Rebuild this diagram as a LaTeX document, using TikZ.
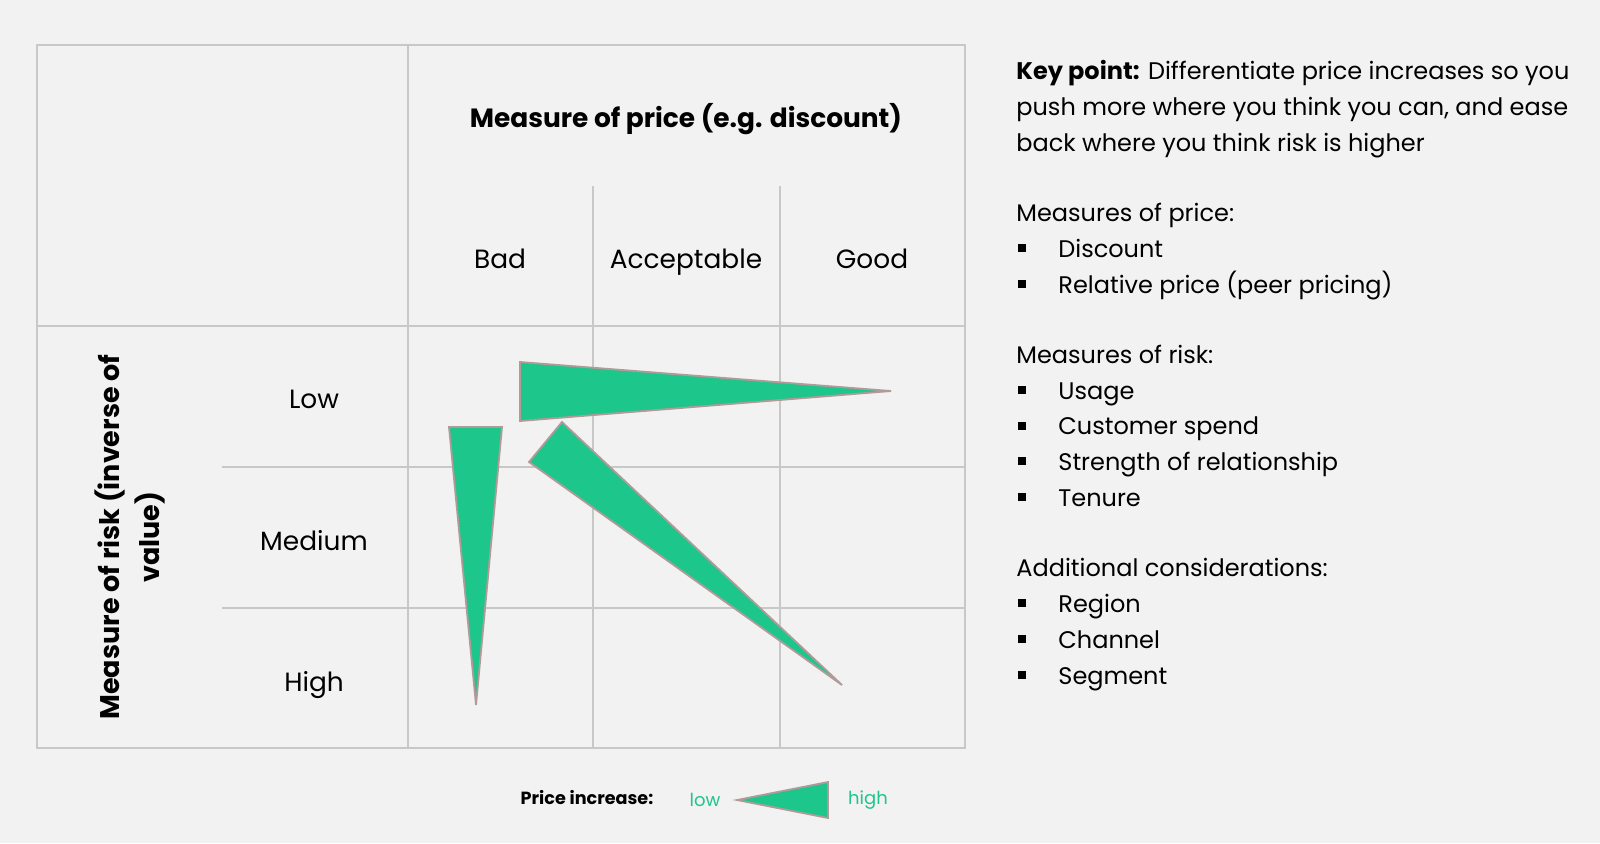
\documentclass[tikz,border=0pt]{standalone}
\usepackage{fontspec}
\setmainfont{Poppins}
\definecolor{bg}{HTML}{F2F2F2}
\definecolor{gridgray}{HTML}{C8C8C8}
\definecolor{wedgegreen}{HTML}{1DC68A}
\definecolor{wedgeedge}{HTML}{B09A9A}

\begin{document}
\begin{tikzpicture}[x=0.5pt,y=-0.5pt,
    grid/.style={draw=gridgray,line width=1pt},
    wedge/.style={fill=wedgegreen,draw=wedgeedge,line width=0.9pt},
    head/.style={font=\fontsize{13.2}{16}\selectfont\bfseries},
    lab/.style={font=\fontsize{13.2}{16}\selectfont,anchor=base},
    note/.style={font=\fontsize{12}{14}\selectfont,anchor=mid west,inner sep=0pt},
    bul/.style={fill=black}]
  \fill[bg] (0,0) rectangle (1600,843);
  % table
  \draw[grid] (37,45) rectangle (965,748);
  \draw[grid] (408,45) -- (408,748);
  \draw[grid] (37,326) -- (965,326);
  \draw[grid] (222,467) -- (965,467);
  \draw[grid] (222,608) -- (965,608);
  \draw[grid] (593,186) -- (593,748);
  \draw[grid] (780,186) -- (780,748);
  % headings
  \node[head] (price) at (686,119) {Measure of price (e.g. discount)};
  \node[lab] (bad) at (500,268) {Bad};
  \node[lab] (acc) at (686,268) {Acceptable};
  \node[lab] (good) at (872,268) {Good};
  \node[lab] (low) at (314,408) {Low};
  \node[lab] (med) at (314,550) {Medium};
  \node[lab] (high) at (314,691) {High};
  \node[head,rotate=90,align=center,font=\fontsize{13.5}{20}\selectfont\bfseries]
    (risk) at (130,537) {Measure of risk (inverse of\\value)};
  % wedges
  \filldraw[wedge] (520,362) -- (891,391) -- (520,421) -- cycle;
  \filldraw[wedge] (449,427) -- (502,427) -- (476,705) -- cycle;
  \filldraw[wedge] (562,422) -- (842,685) -- (529,462) -- cycle;
  % legend
  \node[font=\fontsize{8.8}{10}\selectfont\bfseries] (pinc) at (587,797) {Price increase:};
  \node[font=\fontsize{9}{10}\selectfont,text=wedgegreen] (lo) at (705,800) {low};
  \filldraw[wedge] (737,800) -- (828,782) -- (828,818) -- cycle;
  \node[font=\fontsize{9}{10}\selectfont,text=wedgegreen] (hi) at (868,800) {high};
  % notes
  \node[note] (key1) at (1016,74) {\textbf{Key point:} Differentiate price increases so you};
  \node[note] (key2) at (1016,110) {push more where you think you can, and ease};
  \node[note] (key3) at (1016,146) {back where you think risk is higher};
  \node[note] (mp) at (1016,216) {Measures of price:};
  \node[note] (mr) at (1016,358) {Measures of risk:};
  \node[note] (ac) at (1016,571) {Additional considerations:};
  \foreach \y/\t [count=\i] in {252/Discount,288/Relative price (peer pricing),
      394/Usage,429.5/Customer spend,465/Strength of relationship,501/Tenure,
      607/Region,643/Channel,678.5/Segment}{
    \fill[bul] (1018,\y-8) rectangle (1026,\y);
    \node[note] (item\i) at (1058,\y) {\t};
  }
\end{tikzpicture}
\end{document}
